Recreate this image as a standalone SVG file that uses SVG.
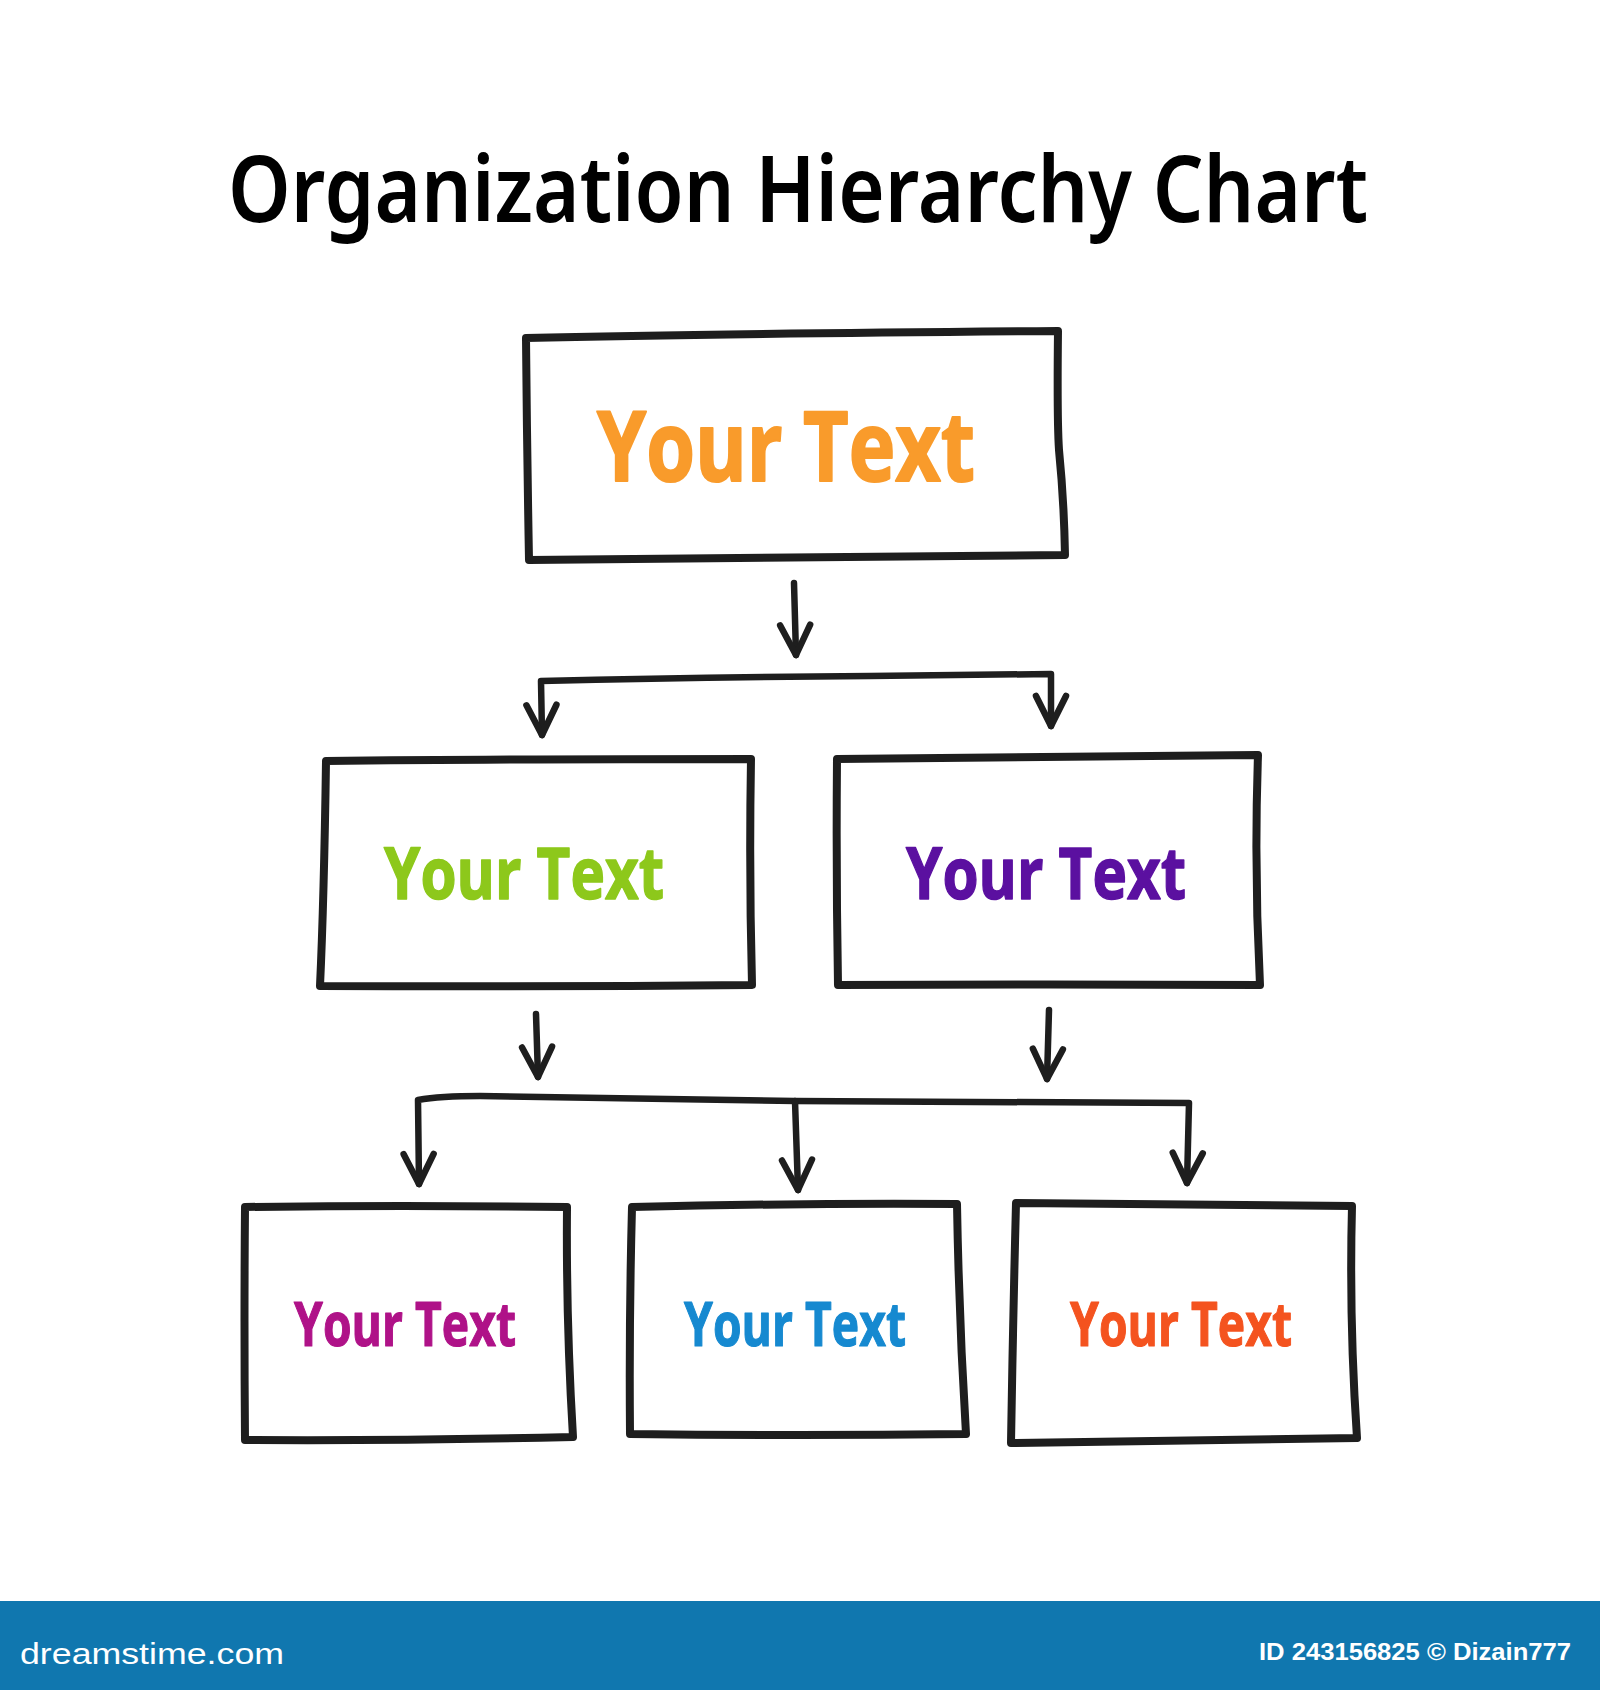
<svg xmlns="http://www.w3.org/2000/svg" width="1600" height="1690" viewBox="0 0 1600 1690">
<style>
.box{fill:#fff;stroke:#1e1e1e;stroke-width:8;stroke-linejoin:round;stroke-linecap:round}
.con{fill:none;stroke:#1e1e1e;stroke-width:6.5;stroke-linejoin:round;stroke-linecap:round}
.lbl{font-family:"Open Sans","Noto Sans","Liberation Sans",sans-serif;font-weight:700;text-anchor:middle;stroke-linejoin:round}
.title{font-family:"Noto Sans","Open Sans","Liberation Sans",sans-serif;font-weight:600;fill:#000}
.foot{font-family:"Liberation Sans",Arial,sans-serif;fill:#fff}
</style>
<defs>
<marker id="ah" markerUnits="userSpaceOnUse" markerWidth="40" markerHeight="40" refX="0" refY="0" orient="auto-start-reverse" overflow="visible">
<path d="M-30,-15 L0,0 L-30,15" fill="none" stroke="#1e1e1e" stroke-width="6.5" stroke-linecap="round" stroke-linejoin="round"/>
</marker>
</defs>
<rect width="1600" height="1690" fill="#fff"/>
<text class="title" x="798" y="222" font-size="92" text-anchor="middle" textLength="1140" lengthAdjust="spacingAndGlyphs">Organization Hierarchy Chart</text>

<g id="connectors">
<path class="con" d="M794,583 L796,655" marker-end="url(#ah)"/>
<path class="con" d="M542,735 L541,681 Q700,677 870,676 L1051,674 L1051,726" marker-start="url(#ah)" marker-end="url(#ah)"/>
<path class="con" d="M536,1014 L538,1077" marker-end="url(#ah)"/>
<path class="con" d="M1049,1010 L1047,1079" marker-end="url(#ah)"/>
<path class="con" d="M419,1184 L418,1100 Q440,1096 480,1096 Q620,1098 795,1101 L1189,1103 L1187,1183" marker-start="url(#ah)" marker-end="url(#ah)"/>
<path class="con" d="M795,1101 L798,1190" marker-end="url(#ah)"/>
</g>

<g id="node-top">
<path class="box" d="M526,338 Q700,334 1058,331 Q1057,420 1059,450 Q1064,500 1065,555 Q800,558 529,560 Q527,450 526,338 Z"/>
<text class="lbl" x="786" y="481" font-size="96" fill="#F99B2B" stroke="#F99B2B" stroke-width="2" textLength="378" lengthAdjust="spacingAndGlyphs">Your Text</text>
</g>
<g id="node-mid-left">
<path class="box" d="M326,761 Q500,759 751,759 Q749,870 752,985 Q540,987 320,986 Q324,900 326,761 Z"/>
<text class="lbl" x="524" y="899" font-size="72" fill="#8DC81B" stroke="#8DC81B" stroke-width="1.5" textLength="280" lengthAdjust="spacingAndGlyphs">Your Text</text>
</g>
<g id="node-mid-right">
<path class="box" d="M837,759 Q1050,757 1258,755 Q1254,870 1260,985 Q1050,984 838,985 Q836,870 837,759 Z"/>
<text class="lbl" x="1046" y="899" font-size="72" fill="#5B10A0" stroke="#5B10A0" stroke-width="1.5" textLength="280" lengthAdjust="spacingAndGlyphs">Your Text</text>
</g>
<g id="node-bot-left">
<path class="box" d="M245,1207 Q400,1205 567,1207 Q566,1320 573,1437 Q400,1441 245,1440 Q244,1320 245,1207 Z"/>
<text class="lbl" x="405" y="1346" font-size="60" fill="#AF1288" stroke="#AF1288" stroke-width="1.2" textLength="222" lengthAdjust="spacingAndGlyphs">Your Text</text>
</g>
<g id="node-mid-bot">
<path class="box" d="M632,1207 Q800,1203 957,1204 Q959,1320 966,1434 Q800,1436 630,1434 Q629,1320 632,1207 Z"/>
<text class="lbl" x="795" y="1346" font-size="60" fill="#1689D0" stroke="#1689D0" stroke-width="1.2" textLength="222" lengthAdjust="spacingAndGlyphs">Your Text</text>
</g>
<g id="node-bot-right">
<path class="box" d="M1016,1203 Q1200,1205 1352,1206 Q1349,1320 1357,1438 Q1180,1440 1011,1443 Q1013,1320 1016,1203 Z"/>
<text class="lbl" x="1181" y="1346" font-size="60" fill="#F4531F" stroke="#F4531F" stroke-width="1.2" textLength="222" lengthAdjust="spacingAndGlyphs">Your Text</text>
</g>

<rect x="0" y="1601" width="1600" height="89" fill="#1077AF"/>
<text class="foot" x="20" y="1664" font-size="30" textLength="264" lengthAdjust="spacingAndGlyphs">dreamstime.com</text>
<text class="foot" x="1571" y="1660" font-size="24" font-weight="700" text-anchor="end" textLength="312" lengthAdjust="spacingAndGlyphs">ID 243156825 © Dizain777</text>
</svg>
